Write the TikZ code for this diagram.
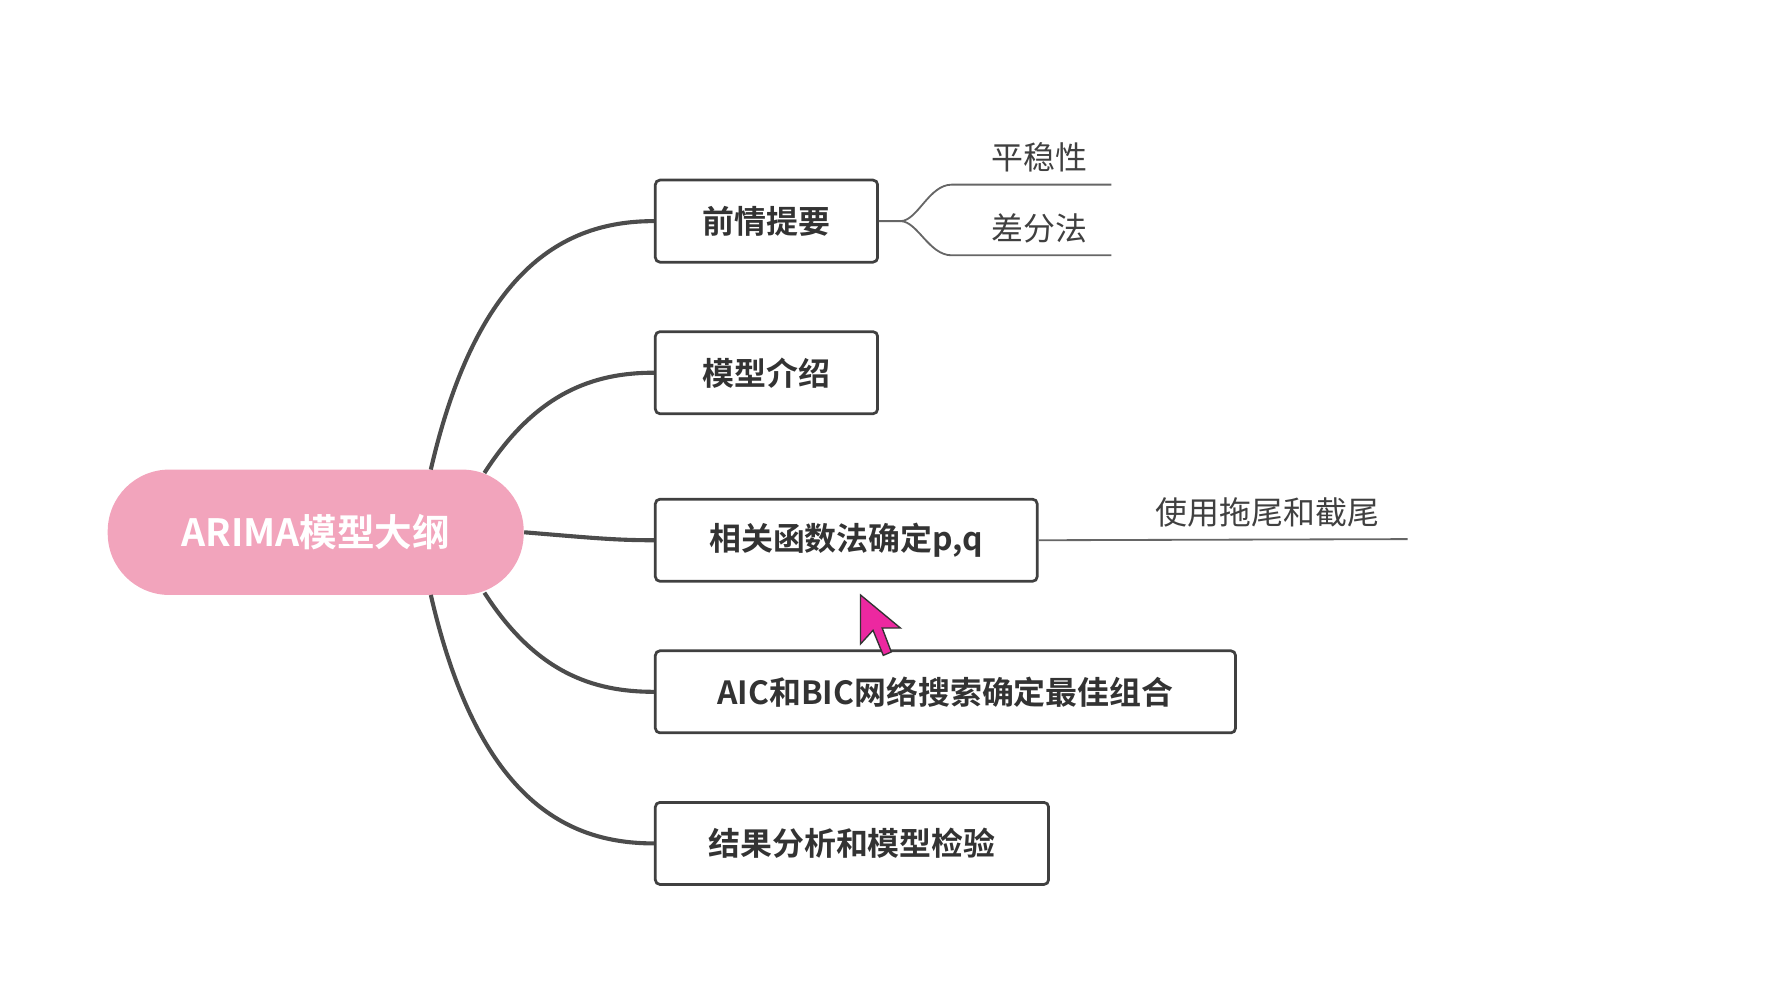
\documentclass[tikz,border=0pt]{standalone}
\usepackage{fontspec}
\setmainfont{Noto Sans CJK SC}
\newfontfamily\cjkb{Noto Sans CJK SC Bold}
\begin{document}
\begin{tikzpicture}[x=0.5pt,y=-0.5pt,
  box/.style={draw=black!75,line width=1.2pt,rounded corners=2pt,minimum height=36pt,inner sep=0pt,font=\cjkb\fontsize{14}{16}\selectfont,text=black!80},
  br/.style={draw=black!70,line width=1.8pt},
  thin/.style={draw=black!60,line width=0.8pt},
  lab/.style={font=\fontsize{14}{16}\selectfont,text=black!75}]
\useasboundingbox (0,0) rectangle (1560,869);
\node[fill={rgb,255:red,242;green,164;blue,188},rounded corners=27pt,minimum width=182.5pt,minimum height=55pt,text=white,font=\cjkb\fontsize{16.5}{19}\selectfont] (root) at (277,467) {ARIMA模型大纲};
\node[box,minimum width=97.5pt] (b1) at (672.5,194) {前情提要};
\node[box,minimum width=97.5pt] (b2) at (672.5,327) {模型介绍};
\node[box,minimum width=167.5pt] (b3) at (742.5,474) {相关函数法确定p,q};
\node[box,minimum width=254.5pt] (b4) at (829.5,607) {AIC和BIC网络搜索确定最佳组合};
\node[box,minimum width=172.5pt] (b5) at (747.5,740) {结果分析和模型检验};
\draw[br] (378,412) .. controls (420,230) and (500,194) .. (b1.west);
\draw[br] (425,415) .. controls (470,345) and (520,327) .. (b2.west);
\draw[br] (root.east) .. controls (520,472) and (540,474) .. (b3.west);
\draw[br] (425,520) .. controls (470,590) and (520,607) .. (b4.west);
\draw[br] (378,522) .. controls (420,705) and (500,740) .. (b5.west);
\coordinate (f) at (790,194);
\coordinate (s1) at (975,162);
\coordinate (s2) at (975,224);
\coordinate (s3) at (1235,473);
\draw[thin] (b1.east) -- (f) .. controls (805,194) and (815,162) .. (835,162) -- (s1);
\draw[thin] (f) .. controls (805,194) and (815,224) .. (835,224) -- (s2);
\draw[thin] (b3.east) -- (s3);
\node[lab] (l1) at (912,138) {平稳性};
\node[lab] (l2) at (912,200) {差分法};
\node[lab] (l3) at (1112,450) {使用拖尾和截尾};
\draw[fill={rgb,255:red,236;green,40;blue,160},draw=black!80,line width=0.6pt] (755,522) -- (755,565) -- (766,553) -- (775,575) -- (782,572) -- (774,551) -- (790,551) -- cycle;
\end{tikzpicture}
\end{document}
